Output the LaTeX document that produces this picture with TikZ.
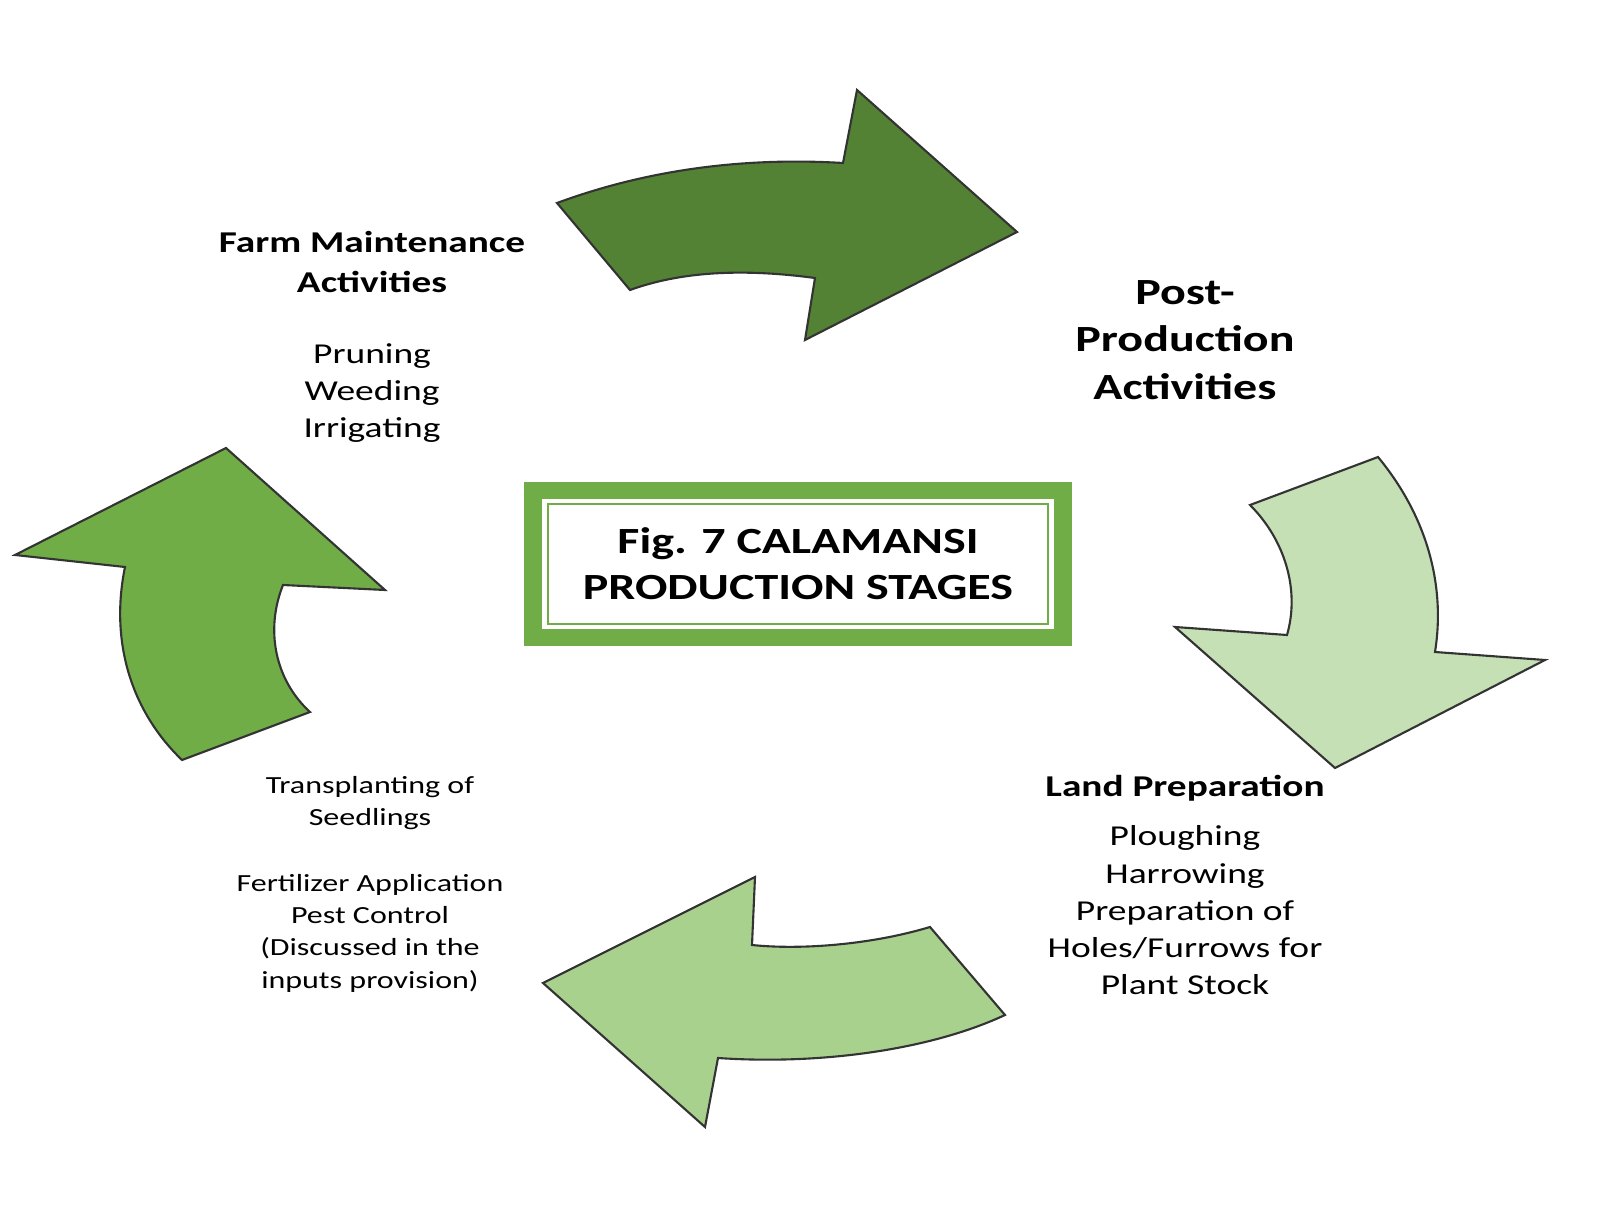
\documentclass[tikz,border=0pt]{standalone}
\usepackage{fontspec}
\setmainfont{Carlito}[FakeStretch=1.3]
\usetikzlibrary{positioning}
\definecolor{dkgreen}{HTML}{548235}
\definecolor{midgreen}{HTML}{70AD47}
\definecolor{ltgreen}{HTML}{A9D18E}
\definecolor{paleg}{HTML}{C5E0B4}
\tikzset{
    arrowshape/.style = {draw=black!80, line width=0.6pt, line join=miter},
    head/.style = {font=\bfseries\fontsize{8.6}{11.5}\selectfont, align=center, text=black},
    items/.style = {font=\fontsize{8.2}{10.6}\selectfont, align=center, text=black},
    small/.style = {font=\fontsize{7.0}{9.2}\selectfont, align=center, text=black}
}
\begin{document}
\begin{tikzpicture}[x=0.01cm,y=-0.01cm]
\useasboundingbox (0,0) rectangle (1615,1213);
% cycle arrows
\fill[dkgreen,arrowshape] (557,203) .. controls (660,165) and (760,158) .. (843,163) -- (857,90) -- (1017,232) -- (805,340) -- (815,278) .. controls (740,268) and (680,272) .. (630,290) -- cycle;
\fill[paleg,arrowshape] (1250,505) -- (1378,457) .. controls (1430,520) and (1445,590) .. (1435,652) -- (1545,660) -- (1335,768) -- (1175,627) -- (1287,635) .. controls (1300,590) and (1285,540) .. (1250,505) -- cycle;
\fill[ltgreen,arrowshape] (1005,1015) -- (930,927) .. controls (870,945) and (800,950) .. (752,945) -- (755,877) -- (543,983) -- (705,1127) -- (718,1058) .. controls (820,1065) and (930,1050) .. (1005,1015) -- cycle;
\fill[midgreen,arrowshape] (182,760) -- (310,712) .. controls (275,680) and (265,630) .. (283,585) -- (385,590) -- (226,448) -- (15,555) -- (125,567) .. controls (110,640) and (130,710) .. (182,760) -- cycle;
% centre box
\node[draw=midgreen, line width=5pt, minimum width=5.3cm, minimum height=1.47cm] (box) at (798,564) {};
\node[draw=midgreen, line width=0.6pt, minimum width=5.0cm, minimum height=1.2cm, font=\bfseries\fontsize{10.5}{13}\selectfont, align=center] (title) at (798,564) {Fig. 7 CALAMANSI\\PRODUCTION STAGES};
% stage texts
\node[head] (farm) at (372,262) {Farm Maintenance\\Activities};
\node[items] (farmitems) at (372,393) {Pruning\\Weeding\\Irrigating};
\node[head, font=\bfseries\fontsize{10.5}{13.5}\selectfont] (post) at (1185,340) {Post-\\Production\\Activities};
\node[head] (land) at (1185,788) {Land Preparation};
\node[items, below=0pt of land] (landitems) {Ploughing\\Harrowing\\Preparation of\\Holes/Furrows for\\Plant Stock};
\node[small] (trans) at (370,803) {Transplanting of\\Seedlings};
\node[small] (fert) at (370,933) {Fertilizer Application\\Pest Control\\(Discussed in the\\inputs provision)};
\end{tikzpicture}
\end{document}
